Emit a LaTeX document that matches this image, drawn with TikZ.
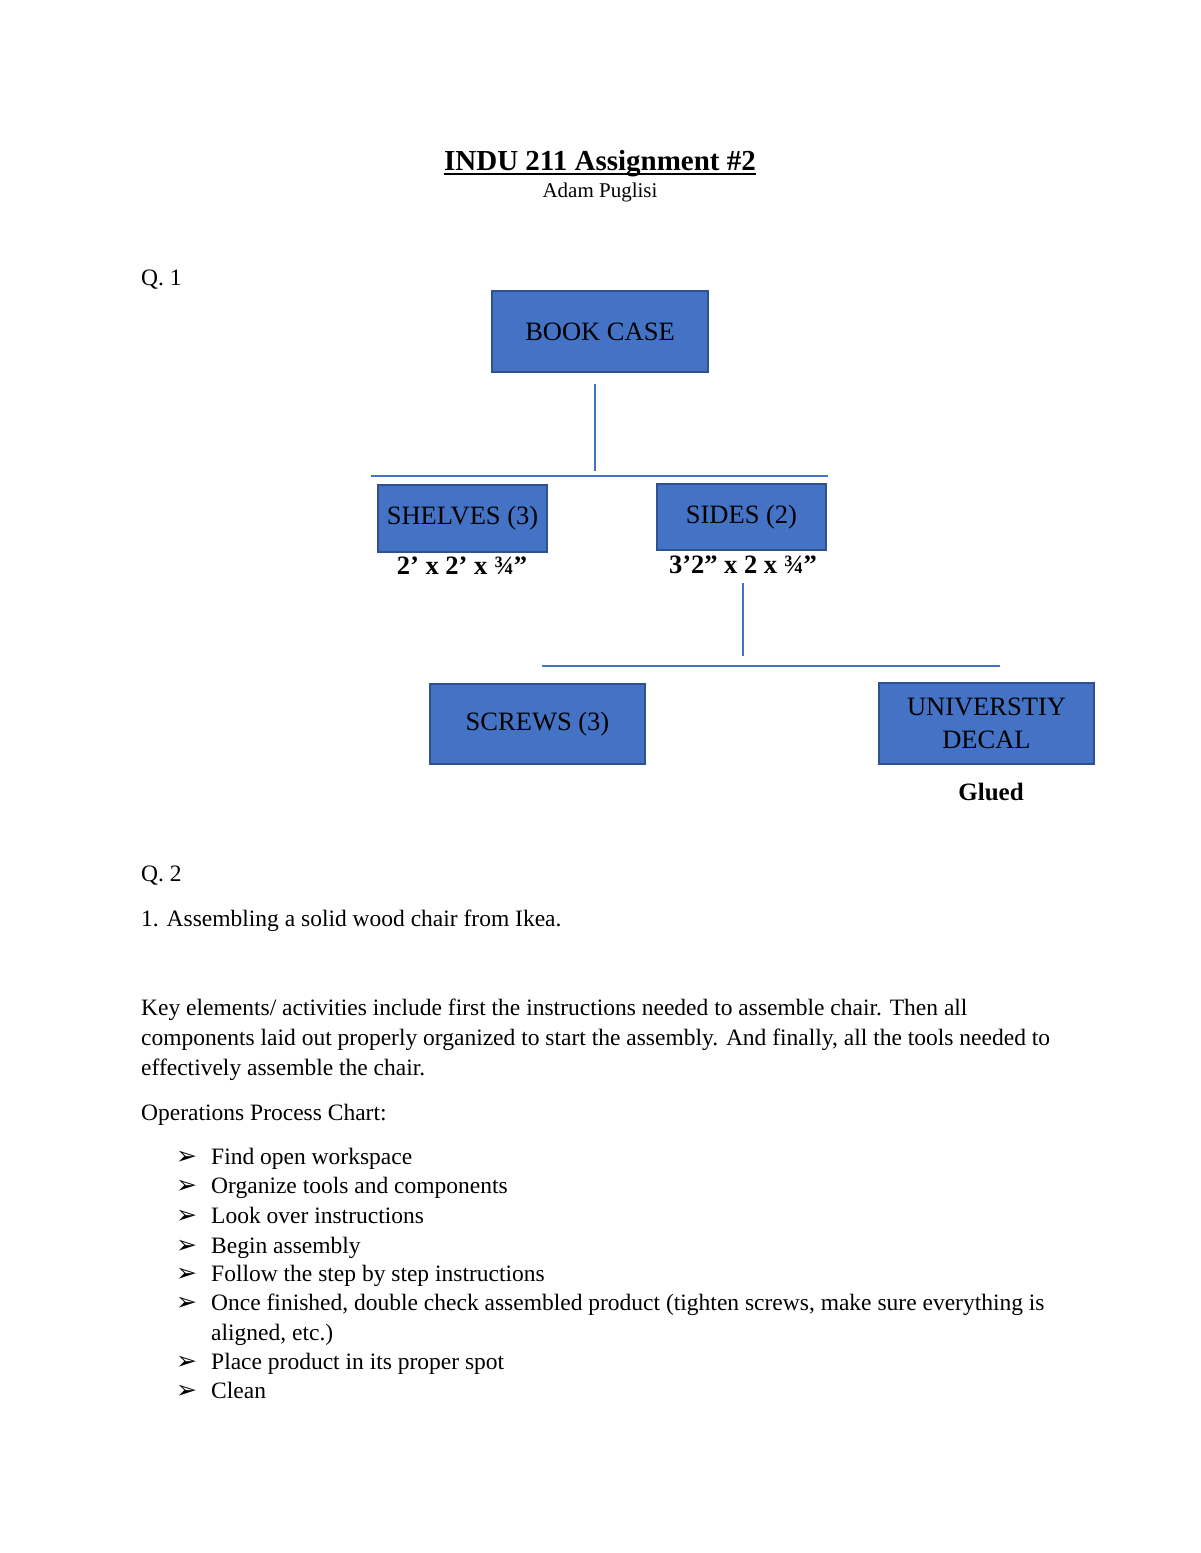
\documentclass[tikz,border=0pt]{standalone}
\usepackage{fontspec}
\setmainfont{Liberation Serif}
\newfontfamily\symfont{DejaVu Sans}
\definecolor{boxfill}{HTML}{4472C4}
\definecolor{boxline}{HTML}{2F528F}
\definecolor{linkcol}{HTML}{4472C4}
\tikzset{
  partbox/.style={draw=boxline, fill=boxfill, line width=2.5pt, inner sep=0pt,
    align=center, font=\fontsize{26.5}{33}\selectfont},
  link/.style={draw=linkcol, line width=1.5pt},
  body/.style={anchor=base west, inner sep=0pt, font=\fontsize{23.5}{30}\selectfont},
  dimlabel/.style={anchor=base, inner sep=0pt, font=\fontsize{26.5}{30}\selectfont\bfseries},
  bul/.style={anchor=base west, inner sep=0pt, font=\fontsize{25}{28}\symfont}
}
\begin{document}
\begin{tikzpicture}[x=1pt,y=-1pt]
\useasboundingbox[fill=white] (0,0) rectangle (1200,1553);
% title
\node[anchor=base, inner sep=0pt, font=\fontsize{29}{34}\selectfont\bfseries] (title) at (600,170) {INDU 211 Assignment \#2};
\draw[line width=2pt] ([yshift=-4pt]title.base west) -- ([yshift=-4pt]title.base east);
\node[anchor=base, inner sep=0pt, font=\fontsize{21}{24}\selectfont] (author) at (600,197) {Adam Puglisi};
\node[body] (q1) at (141,285) {Q. 1};
% tree
\node[partbox, minimum width=216pt, minimum height=81pt] (bookcase) at (600,331.5) {BOOK CASE};
\node[partbox, minimum width=169pt, minimum height=67pt] (shelves) at (462.5,518.5) {SHELVES (3)};
\node[partbox, minimum width=169pt, minimum height=66pt] (sides) at (741.5,517) {SIDES (2)};
\node[partbox, minimum width=215pt, minimum height=80pt] (screws) at (537.5,724) {SCREWS (3)};
\node[partbox, minimum width=215pt, minimum height=81pt] (decal) at (986.5,723.5) {UNIVERSTIY\\DECAL};
\node[dimlabel] (shelvesdim) at (462,574) {2’ x 2’ x ¾”};
\node[dimlabel] (sidesdim) at (743,573) {3’2” x 2 x ¾”};
\node[dimlabel, font=\fontsize{25}{30}\selectfont\bfseries] (glued) at (991,800) {Glued};
\coordinate (v1top) at (595,384);
\coordinate (v1bot) at (595,471);
\coordinate (h1l) at (371,476);
\coordinate (h1r) at (828,476);
\coordinate (v2top) at (743,583);
\coordinate (v2bot) at (743,656);
\coordinate (h2l) at (542,666);
\coordinate (h2r) at (1000,666);
\draw[link] (v1top) -- (v1bot);
\draw[link] (h1l) -- (h1r);
\draw[link] (v2top) -- (v2bot);
\draw[link] (h2l) -- (h2r);
% Q2
\node[body] (q2) at (141,881) {Q. 2};
\node[body] (item1) at (141,926) {1. Assembling a solid wood chair from Ikea.};
\node[body] (p1) at (141,1015) {Key elements/ activities include first the instructions needed to assemble chair. Then all};
\node[body] (p2) at (141,1045) {components laid out properly organized to start the assembly. And finally, all the tools needed to};
\node[body] (p3) at (141,1075) {effectively assemble the chair.};
\node[body] (opc) at (141,1120) {Operations Process Chart:};
\foreach \t [count=\i] /\yy in {Find open workspace/1164, Organize tools and components/1193, Look over instructions/1223, Begin assembly/1253, Follow the step by step instructions/1281, {Once finished, double check assembled product (tighten screws, make sure everything is}/1310, {aligned, etc.)}/1340, Place product in its proper spot/1369, Clean/1398}{
  \node[body] (li\i) at (211,\yy) {\t};
}
\foreach \yy [count=\i] in {1164,1193,1223,1253,1281,1310,1369,1398}{
  \node[bul] (bu\i) at (176,\yy) {➢};
}
\end{tikzpicture}
\end{document}
